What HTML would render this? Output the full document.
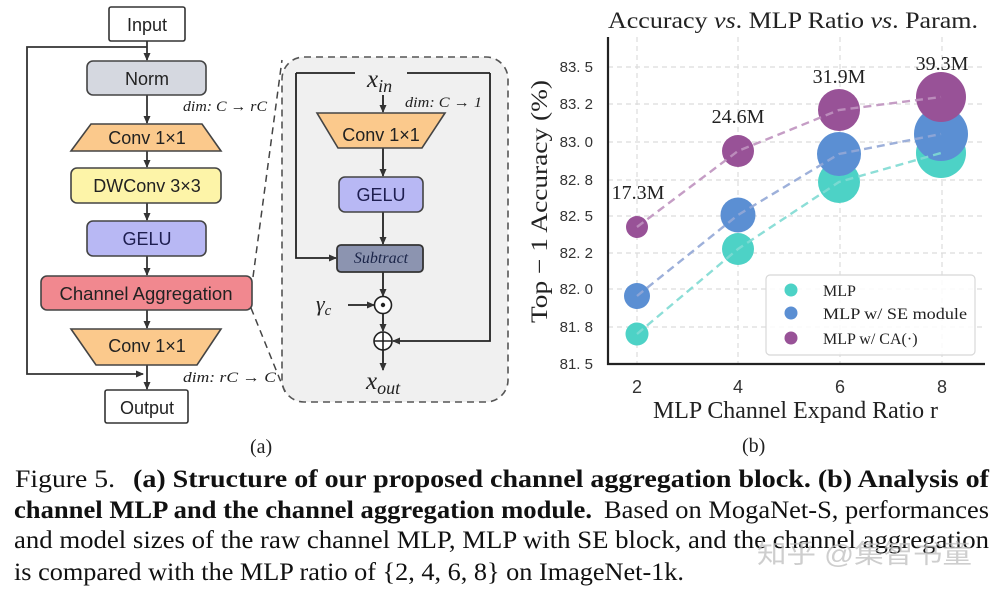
<!DOCTYPE html>
<html><head><meta charset="utf-8"><style>
html,body{margin:0;padding:0;background:#fff;}
svg{display:block;}
</style></head><body>
<svg width="999" height="592" viewBox="0 0 999 592" xmlns="http://www.w3.org/2000/svg">
<defs>
<marker id="ah" markerWidth="8" markerHeight="8" refX="7" refY="4" orient="auto" markerUnits="userSpaceOnUse">
<path d="M0,0.5 L8,4 L0,7.5 z" fill="#333"/>
</marker>
</defs>
<rect width="999" height="592" fill="#fff"/>

<!-- ===== Left diagram (a) ===== -->
<g font-family="Liberation Sans, sans-serif" font-size="18" fill="#222" text-anchor="middle">
<!-- skip connection -->
<polyline points="147,47 27,47 27,374 143,374" fill="none" stroke="#333" stroke-width="1.8" marker-end="url(#ah)"/>
<line x1="147" y1="41" x2="147" y2="60" stroke="#333" stroke-width="1.8" marker-end="url(#ah)"/>
<line x1="147" y1="95" x2="147" y2="123" stroke="#333" stroke-width="1.8" marker-end="url(#ah)"/>
<line x1="147" y1="151" x2="147" y2="167" stroke="#333" stroke-width="1.8" marker-end="url(#ah)"/>
<line x1="147" y1="203" x2="147" y2="220" stroke="#333" stroke-width="1.8" marker-end="url(#ah)"/>
<line x1="147" y1="256" x2="147" y2="275" stroke="#333" stroke-width="1.8" marker-end="url(#ah)"/>
<line x1="147" y1="310" x2="147" y2="328" stroke="#333" stroke-width="1.8" marker-end="url(#ah)"/>
<line x1="147" y1="365" x2="147" y2="389" stroke="#333" stroke-width="1.8" marker-end="url(#ah)"/>

<rect x="109" y="7" width="76" height="34" rx="2" fill="#fff" stroke="#333" stroke-width="1.6"/>
<text x="147" y="31">Input</text>

<rect x="87" y="61" width="119" height="34" rx="6" fill="#d5d8e0" stroke="#444" stroke-width="1.6"/>
<text x="147" y="85">Norm</text>

<polygon points="91,124 202,124 221,151 71,151" fill="#fbc98c" stroke="#444" stroke-width="1.6"/>
<text x="147" y="144">Conv 1×1</text>

<rect x="71" y="168" width="150" height="35" rx="6" fill="#fdf4a8" stroke="#444" stroke-width="1.6"/>
<text x="147" y="192">DWConv 3×3</text>

<rect x="87" y="221" width="119" height="35" rx="6" fill="#b8b8f4" stroke="#444" stroke-width="1.6"/>
<text x="147" y="245" fill="#1e1e50">GELU</text>

<rect x="41" y="276" width="211" height="34" rx="6" fill="#f1888f" stroke="#444" stroke-width="1.6"/>
<text x="146" y="300" textLength="173" lengthAdjust="spacingAndGlyphs">Channel Aggregation</text>

<polygon points="71,329 221,329 197,365 96,365" fill="#fbc98c" stroke="#444" stroke-width="1.6"/>
<text x="147" y="352">Conv 1×1</text>

<rect x="105" y="390" width="83" height="33" rx="2" fill="#fff" stroke="#333" stroke-width="1.6"/>
<text x="147" y="414">Output</text>
</g>

<g font-family="Liberation Serif, serif" font-style="italic" font-size="15" fill="#222">
<text x="183" y="111" textLength="84" lengthAdjust="spacingAndGlyphs">dim: C → rC</text>
<text x="183" y="382" textLength="93" lengthAdjust="spacingAndGlyphs">dim: rC → C</text>
</g>

<!-- connecting dashed lines -->
<line x1="253" y1="277" x2="282" y2="60" stroke="#444" stroke-width="1.5" stroke-dasharray="7,5"/>
<line x1="251" y1="308" x2="285" y2="392" stroke="#444" stroke-width="1.5" stroke-dasharray="7,5"/>

<!-- ===== Middle panel ===== -->
<rect x="282" y="57" width="226" height="345" rx="22" fill="#f0f0f0" stroke="#555" stroke-width="1.6" stroke-dasharray="7,5"/>
<g stroke="#222" stroke-width="1.8" fill="none">
<line x1="296" y1="73" x2="355" y2="73"/>
<line x1="407" y1="73" x2="490" y2="73"/>
<polyline points="296,73 296,258 336,258" marker-end="url(#ah)"/>
<polyline points="490,73 490,341 393,341" marker-end="url(#ah)"/>
<line x1="383" y1="95" x2="383" y2="112" marker-end="url(#ah)"/>
<line x1="383" y1="148" x2="383" y2="176" marker-end="url(#ah)"/>
<line x1="383" y1="212" x2="383" y2="244" marker-end="url(#ah)"/>
<line x1="383" y1="272" x2="383" y2="296" marker-end="url(#ah)"/>
<line x1="348" y1="305" x2="374" y2="305" marker-end="url(#ah)"/>
<line x1="383" y1="314" x2="383" y2="331" marker-end="url(#ah)"/>
<line x1="383" y1="350" x2="383" y2="370" marker-end="url(#ah)"/>
</g>
<polygon points="317,113 445,113 422,148 338,148" fill="#fbc98c" stroke="#444" stroke-width="1.6"/>
<rect x="339" y="177" width="84" height="35" rx="6" fill="#b8b8f4" stroke="#444" stroke-width="1.6"/>
<rect x="337" y="245" width="86" height="27" rx="4" fill="#8c94b0" stroke="#333" stroke-width="1.8"/>
<circle cx="383" cy="305" r="8.5" fill="#fff" stroke="#222" stroke-width="1.6"/>
<circle cx="383" cy="305" r="2.2" fill="#222"/>
<circle cx="383" cy="341" r="9" fill="#fff" stroke="#222" stroke-width="1.6"/>
<line x1="374" y1="341" x2="392" y2="341" stroke="#222" stroke-width="1.6"/>
<line x1="383" y1="332" x2="383" y2="350" stroke="#222" stroke-width="1.6"/>

<g font-family="Liberation Sans, sans-serif" font-size="18" fill="#222" text-anchor="middle">
<text x="381" y="141">Conv 1×1</text>
<text x="381" y="201" fill="#1e1e50">GELU</text>
</g>
<g font-family="Liberation Serif, serif" font-style="italic" fill="#222">
<text x="381" y="263" font-size="16" text-anchor="middle" fill="#1a2448">Subtract</text>
<text x="367" y="87" font-size="25">x<tspan font-size="18" dy="5">in</tspan></text>
<text x="405" y="107" font-size="15" textLength="77" lengthAdjust="spacingAndGlyphs">dim: C → 1</text>
<text x="316" y="311" font-size="22">γ<tspan font-size="15" dy="4">c</tspan></text>
<text x="366" y="389" font-size="25">x<tspan font-size="18" dy="5">out</tspan></text>
</g>

<text x="250" y="453" font-family="Liberation Serif, serif" font-size="20" fill="#222">(a)</text>

<!-- ===== Chart (b) ===== -->
<g stroke="#dcdcdc" stroke-width="1.2" stroke-dasharray="5,4">
<line x1="637" y1="37" x2="637" y2="364"/>
<line x1="738" y1="37" x2="738" y2="364"/>
<line x1="840" y1="37" x2="840" y2="364"/>
<line x1="942" y1="37" x2="942" y2="364"/>
<line x1="608" y1="67" x2="985" y2="67"/>
<line x1="608" y1="104" x2="985" y2="104"/>
<line x1="608" y1="142" x2="985" y2="142"/>
<line x1="608" y1="180" x2="985" y2="180"/>
<line x1="608" y1="216" x2="985" y2="216"/>
<line x1="608" y1="253" x2="985" y2="253"/>
<line x1="608" y1="289" x2="985" y2="289"/>
<line x1="608" y1="327" x2="985" y2="327"/>
</g>

<!-- circles: teal, blue, purple -->
<g fill="#4dd2c6">
<circle cx="637" cy="334" r="11.5"/>
<circle cx="738" cy="249" r="16"/>
<circle cx="839" cy="182" r="21"/>
<circle cx="941" cy="153" r="25"/>
</g>
<g fill="#5b8fd3">
<circle cx="637" cy="296" r="13"/>
<circle cx="738" cy="215" r="17.5"/>
<circle cx="839" cy="154" r="22"/>
<circle cx="941" cy="134" r="27"/>
</g>
<g fill="#985297">
<circle cx="637" cy="227" r="11"/>
<circle cx="738" cy="151" r="16"/>
<circle cx="839" cy="110" r="21"/>
<circle cx="941" cy="97" r="25"/>
</g>
<g fill="none" stroke-width="2.4" stroke-dasharray="8,5">
<polyline points="637,334 738,249 839,182 941,153" stroke="#7fdad3" stroke-opacity="0.9"/>
<polyline points="637,296 738,215 839,154 941,134" stroke="#92a7d6" stroke-opacity="0.9"/>
<polyline points="637,227 738,151 839,110 941,97" stroke="#bf92bf" stroke-opacity="0.9"/>
</g>

<!-- spines -->
<line x1="608" y1="37" x2="608" y2="365" stroke="#222" stroke-width="2.2"/>
<line x1="607" y1="364" x2="985" y2="364" stroke="#222" stroke-width="2.2"/>

<!-- y tick labels -->
<g font-family="Liberation Sans, sans-serif" font-size="15" fill="#333" text-anchor="end">
<text x="593" y="72">83. 5</text>
<text x="593" y="109">83. 2</text>
<text x="593" y="147">83. 0</text>
<text x="593" y="185">82. 8</text>
<text x="593" y="221">82. 5</text>
<text x="593" y="258">82. 2</text>
<text x="593" y="294">82. 0</text>
<text x="593" y="332">81. 8</text>
<text x="593" y="369">81. 5</text>
</g>
<g font-family="Liberation Sans, sans-serif" font-size="18" fill="#333" text-anchor="middle">
<text x="637" y="393">2</text>
<text x="738" y="393">4</text>
<text x="840" y="393">6</text>
<text x="942" y="393">8</text>
</g>

<g font-family="Liberation Serif, serif" fill="#222">
<text x="608" y="28" font-size="23" textLength="370" lengthAdjust="spacingAndGlyphs">Accuracy <tspan font-style="italic">vs</tspan>. MLP Ratio <tspan font-style="italic">vs</tspan>. Param.</text>
<text x="653" y="418" font-size="24" textLength="285" lengthAdjust="spacingAndGlyphs">MLP Channel Expand Ratio r</text>
<text transform="translate(547,323) rotate(-90)" font-size="23" textLength="243" lengthAdjust="spacingAndGlyphs">Top − 1 Accuracy (%)</text>
<g font-size="20" text-anchor="middle">
<text x="638" y="199">17.3M</text>
<text x="738" y="123">24.6M</text>
<text x="839" y="83">31.9M</text>
<text x="942" y="70">39.3M</text>
</g>
<text x="742" y="452" font-size="20">(b)</text>
</g>

<!-- legend -->
<rect x="766" y="275" width="209" height="80" rx="4" fill="#fff" fill-opacity="0.85" stroke="#d8d8d8" stroke-width="1.2"/>
<circle cx="791" cy="290" r="6.5" fill="#4dd2c6"/>
<circle cx="791" cy="313" r="6.5" fill="#5b8fd3"/>
<circle cx="791" cy="338" r="6.5" fill="#985297"/>
<g font-family="Liberation Serif, serif" font-size="16" fill="#222">
<text x="823" y="296">MLP</text>
<text x="823" y="319" textLength="144" lengthAdjust="spacingAndGlyphs">MLP w/ SE module</text>
<text x="823" y="344">MLP w/ CA(·)</text>
</g>

<!-- ===== Caption ===== -->
<g font-family="Liberation Serif, serif" font-size="25" fill="#111">
<text x="15" y="487" textLength="100" lengthAdjust="spacingAndGlyphs">Figure 5.</text>
<text x="133" y="487" font-weight="bold" textLength="856" lengthAdjust="spacingAndGlyphs">(a) Structure of our proposed channel aggregation block.  (b) Analysis of</text>
<text x="14" y="518" font-weight="bold" textLength="578" lengthAdjust="spacingAndGlyphs">channel MLP and the channel aggregation module.</text>
<text x="604" y="518" textLength="385" lengthAdjust="spacingAndGlyphs">Based on MogaNet-S, performances</text>
<text x="14" y="548" textLength="975" lengthAdjust="spacingAndGlyphs">and model sizes of the raw channel MLP, MLP with SE block, and the channel aggregation</text>
<text x="14" y="580" textLength="670" lengthAdjust="spacingAndGlyphs">is compared with the MLP ratio of {2, 4, 6, 8} on ImageNet-1k.</text>
</g>
<text x="757" y="563" font-family="Liberation Sans, 'Noto Sans CJK SC', sans-serif" font-size="26" fill="#bdbdbd" fill-opacity="0.75" textLength="215" lengthAdjust="spacingAndGlyphs">知乎 @集智书童</text>
</svg>
</body></html>
